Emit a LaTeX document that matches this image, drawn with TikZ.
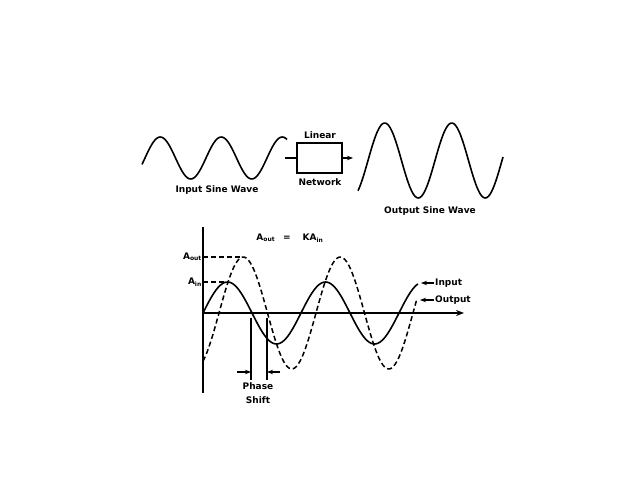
\documentclass[tikz,border=0pt]{standalone}
\usepackage{fontspec}
\setmainfont{DejaVu Sans}
\usetikzlibrary{arrows.meta}
\begin{document}
\begin{tikzpicture}[x=1pt,y=-1pt,
  lbl/.style={font=\fontsize{9}{10}\selectfont\bfseries, inner sep=1pt},
  wave/.style={line width=1.6pt, smooth},
  dwave/.style={line width=1.5pt, smooth, dash pattern=on 5pt off 3pt},
  guide/.style={line width=1.2pt, dash pattern=on 5pt off 3pt},
  ax/.style={line width=1.6pt},
  tip/.style={-{Stealth[length=6pt,width=4.5pt]}, line width=1.1pt}]
\useasboundingbox (0,0) rectangle (638,478);
% top input wave
\draw[wave] plot[domain=142:287,samples=90] (\x,{158-21*sin(360/61*(\x-145))});
\node[lbl] (inlbl) at (217,190) {Input Sine Wave};
% network box
\node[draw, line width=1.2pt, minimum width=45pt, minimum height=30pt, inner sep=0pt] (box) at (319.5,158) {};
\node[lbl] (lin) at (320,135) {Linear};
\node[lbl] (net) at (320,182) {Network};
\coordinate (bin) at (285,158);
\coordinate (bout) at (353,158);
\draw[line width=1.2pt] (bin) -- (box.west);
\draw[tip] (box.east) -- (bout);
% top output wave
\draw[wave] plot[domain=358:503,samples=90] (\x,{160.5-37.5*sin(360/67*(\x-368))});
\node[lbl] (outlbl) at (430,211) {Output Sine Wave};
% axes
\coordinate (o) at (203,313);
\coordinate (vt) at (203,227);
\coordinate (vb) at (203,393);
\coordinate (hx) at (464,313);
\draw[ax] (vt) -- (vb);
\draw[ax,-{Stealth[length=8pt,width=6pt]}] (o) -- (hx);
% waves
\draw[wave] plot[domain=203:418,samples=120] (\x,{313-31*sin(360/98*(\x-203))});
\draw[dwave] plot[domain=203:417,samples=120] (\x,{313-56*sin(360/97*(\x-219))});
% guides
\coordinate (aout) at (203,257);
\coordinate (ain) at (203,282);
\coordinate (aoutE) at (242,257);
\coordinate (ainE) at (228,282);
\draw[guide] (aout) -- (aoutE);
\draw[guide] (ain) -- (ainE);
\node[lbl, anchor=east] (aoutl) at (203,257) {A\textsubscript{out}};
\node[lbl, anchor=east] (ainl) at (203,282) {A\textsubscript{in}};
\node[lbl] (eq) at (290,238) {A\textsubscript{out}\hspace{8pt}=\hspace{12pt}KA\textsubscript{in}};
% labels input/output
\node[lbl, anchor=west] (inp) at (434,283) {Input};
\node[lbl, anchor=west] (outp) at (434,300) {Output};
\coordinate (inpE) at (421,283);
\coordinate (outpE) at (420,300);
\draw[tip] (inp.west) -- (inpE);
\draw[tip] (outp.west) -- (outpE);
% phase shift
\coordinate (p1t) at (251,318);
\coordinate (p1b) at (251,380);
\coordinate (p2t) at (267,318);
\coordinate (p2b) at (267,380);
\draw[line width=1.2pt] (p1t) -- (p1b);
\draw[line width=1.2pt] (p2t) -- (p2b);
\coordinate (a1s) at (237,372);
\coordinate (a2s) at (280,372);
\draw[tip] (a1s) -- (p1b |- a1s);
\draw[tip] (a2s) -- (p2b |- a2s);
\node[lbl] (ph) at (258,386) {Phase};
\node[lbl] (sh) at (258,400) {Shift};
\end{tikzpicture}
\end{document}
